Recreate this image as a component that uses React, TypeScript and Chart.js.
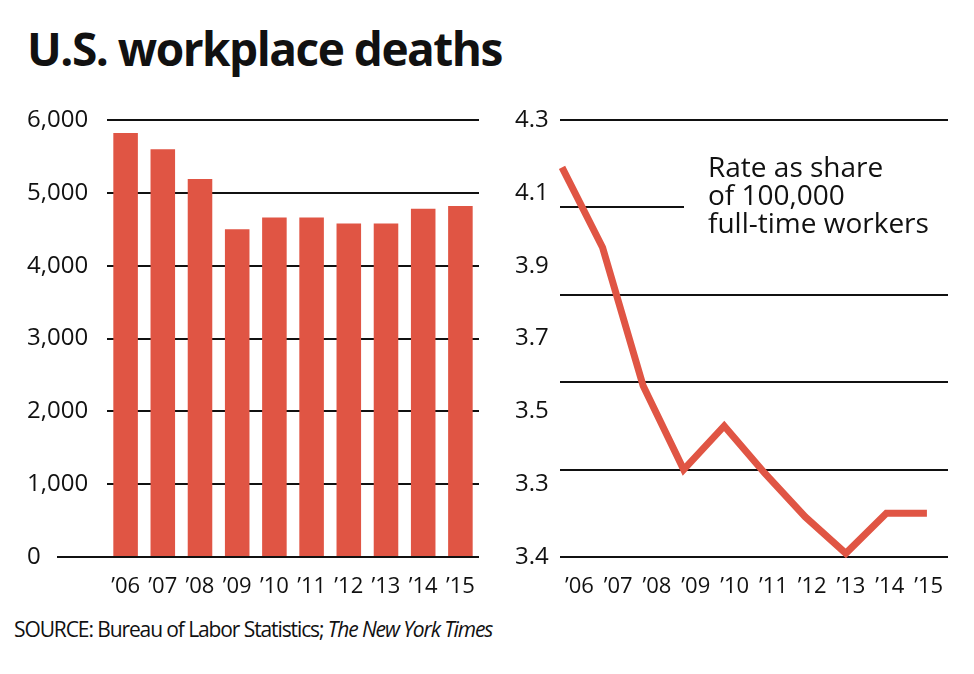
import React, { useEffect, useRef } from 'react';
import { Chart, registerables } from 'chart.js';

Chart.register(...registerables);

const yearLabels = ['\u201906', '\u201907', '\u201908', '\u201909', '\u201910', '\u201911', '\u201912', '\u201913', '\u201914', '\u201915'];
const deaths = [5820, 5600, 5190, 4500, 4660, 4660, 4580, 4580, 4780, 4820];
const rates = [4.17, 3.95, 3.57, 3.34, 3.46, 3.33, 3.21, 3.11, 3.22, 3.22];
const deathTickLabels = ['0', '1,000', '2,000', '3,000', '4,000', '5,000', '6,000'];
const rateTickValues = [3.1, 3.3, 3.5, 3.7, 3.9, 4.1, 4.3];
const rateTickLabels = ['3.4', '3.3', '3.5', '3.7', '3.9', '4.1', '4.3'];
const noteLines = ['Rate as share', 'of 100,000', 'full-time workers'];

const RED = '#e05544';
const INK = '#111111';
const FONT = "'Open Sans', sans-serif";

const baselinePlugin = {
  id: 'baselineExt',
  beforeDatasetsDraw(chart: any) {
    const { ctx, chartArea, scales } = chart;
    const y = scales.y.getPixelForValue(0);
    ctx.save();
    ctx.strokeStyle = INK;
    ctx.lineWidth = 2;
    ctx.beginPath();
    ctx.moveTo(chartArea.left - 50, y);
    ctx.lineTo(chartArea.left, y);
    ctx.stroke();
    ctx.restore();
  },
};

const notePlugin = {
  id: 'note',
  beforeDatasetsDraw(chart: any) {
    const { ctx, chartArea } = chart;
    const tx = chartArea.left + 148;
    ctx.save();
    ctx.fillStyle = '#ffffff';
    ctx.fillRect(chartArea.left + 124, chartArea.top + 35, chartArea.right - chartArea.left - 120, 95);
    ctx.fillStyle = INK;
    ctx.font = `28px ${FONT}`;
    ctx.textBaseline = 'alphabetic';
    ctx.textAlign = 'left';
    noteLines.forEach((line, i) => {
      ctx.fillText(line, tx, chartArea.top + 57 + i * 28);
    });
    ctx.restore();
  },
};

function DeathsChart() {
  const ref = useRef<HTMLCanvasElement>(null);
  useEffect(() => {
    const chart = new Chart(ref.current!, {
      type: 'bar',
      data: {
        labels: yearLabels,
        datasets: [
          {
            data: deaths,
            backgroundColor: RED,
            barPercentage: 0.66,
            categoryPercentage: 1,
          },
        ],
      },
      options: {
        animation: false,
        responsive: false,
        events: [],
        layout: { padding: { left: 27, right: 11, top: 30, bottom: 0 } },
        plugins: { legend: { display: false }, tooltip: { enabled: false } },
        scales: {
          x: {
            grid: { display: false },
            border: { display: false },
            ticks: { font: { family: FONT, size: 22 }, color: INK, padding: 9, maxRotation: 0, autoSkip: false },
            afterFit: (s: any) => { s.height = 43; },
          },
          y: {
            min: 0,
            max: 6000,
            ticks: {
              stepSize: 1000,
              callback: (_v: any, i: number) => deathTickLabels[i],
              font: { family: FONT, size: 24 },
              color: INK,
              crossAlign: 'far',
              padding: 0,
            },
            grid: { color: INK, lineWidth: 2, drawTicks: false },
            border: { display: false },
            afterFit: (s: any) => { s.width = 80; },
          },
        },
      } as any,
      plugins: [baselinePlugin],
    });
    return () => chart.destroy();
  }, []);
  return <canvas ref={ref} width={490} height={510} style={{ display: 'block' }} />;
}

function RateChart() {
  const ref = useRef<HTMLCanvasElement>(null);
  useEffect(() => {
    const chart = new Chart(ref.current!, {
      type: 'line',
      data: {
        labels: yearLabels,
        datasets: [
          {
            data: rates.map((v, i) => ({ x: i, y: v })),
            xAxisID: 'xd',
            yAxisID: 'y',
            borderColor: RED,
            borderWidth: 7,
            pointRadius: 0,
            tension: 0,
            fill: false,
            borderJoinStyle: 'miter',
            borderCapStyle: 'butt',
            clip: false,
          },
        ],
      },
      options: {
        animation: false,
        responsive: false,
        events: [],
        layout: { padding: { left: 25, right: 26, top: 30, bottom: 0 } },
        plugins: { legend: { display: false }, tooltip: { enabled: false } },
        scales: {
          x: {
            type: 'category',
            offset: true,
            grid: { display: false },
            border: { display: false },
            ticks: { font: { family: FONT, size: 22 }, color: INK, padding: 9, maxRotation: 0, autoSkip: false },
            afterFit: (s: any) => { s.height = 43; },
          },
          xd: {
            type: 'linear',
            display: false,
            min: -0.05,
            max: 9.52,
          },
          y: {
            position: 'left',
            min: 3.1,
            max: 4.3,
            afterBuildTicks: (s: any) => { s.ticks = rateTickValues.map((v) => ({ value: v })); },
            ticks: {
              callback: (_v: any, i: number) => rateTickLabels[i],
              font: { family: FONT, size: 24 },
              color: INK,
              crossAlign: 'far',
              padding: 0,
            },
            grid: { display: false },
            border: { display: false },
            afterFit: (s: any) => { s.width = 45; },
          },
          yg: {
            position: 'right',
            min: 0,
            max: 5,
            ticks: { stepSize: 1, display: false },
            grid: { color: INK, lineWidth: 2, drawTicks: false },
            border: { display: false },
            afterFit: (s: any) => { s.width = 0; },
          },
        },
      } as any,
      plugins: [notePlugin],
    });
    return () => chart.destroy();
  }, []);
  return <canvas ref={ref} width={484} height={510} style={{ display: 'block' }} />;
}

export default function App() {
  return (
    <div style={{ position: 'absolute', left: 0, top: 0, width: 974, height: 674, background: '#fff', overflow: 'hidden' }}>
      <div
        style={{
          position: 'absolute',
          left: 27,
          top: 25,
          fontFamily: FONT,
          fontWeight: 700,
          fontSize: 46,
          lineHeight: 1,
          letterSpacing: '-1.5px',
          color: INK,
          whiteSpace: 'nowrap',
        }}
      >
        U.S. workplace deaths
      </div>
      <div style={{ position: 'absolute', left: 0, top: 90, width: 490, height: 510 }}>
        <DeathsChart />
      </div>
      <div style={{ position: 'absolute', left: 490, top: 90, width: 484, height: 510 }}>
        <RateChart />
      </div>
      <div
        style={{
          position: 'absolute',
          left: 14,
          top: 619,
          fontFamily: FONT,
          fontSize: 21,
          lineHeight: 1,
          letterSpacing: '-1.1px',
          color: INK,
          whiteSpace: 'nowrap',
        }}
      >
        SOURCE: Bureau of Labor Statistics; <i>The New York Times</i>
      </div>
    </div>
  );
}
